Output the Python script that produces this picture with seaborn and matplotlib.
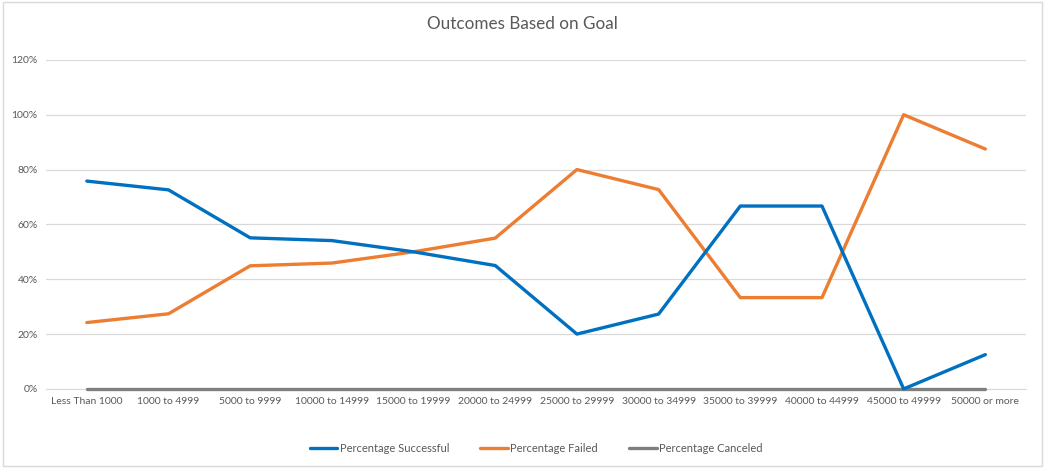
import pandas as pd
import matplotlib.pyplot as plt
import seaborn as sns
from matplotlib.ticker import PercentFormatter

# Categorias de meta
goal_ranges = ['Less Than 1000', '1000 to 4999', '5000 to 9999', '10000 to 14999',
               '15000 to 19999', '20000 to 24999', '25000 to 29999', '30000 to 34999',
               '35000 to 39999', '40000 to 44999', '45000 to 49999', '50000 or more']

# Valores
pct_successful = [0.758, 0.726, 0.551, 0.541, 0.50, 0.45, 0.20, 0.273, 0.667, 0.667, 0.0, 0.125]
pct_failed = [0.242, 0.274, 0.449, 0.459, 0.50, 0.55, 0.80, 0.727, 0.333, 0.333, 1.0, 0.875]
pct_canceled = [0.0] * 12

series_names = ['Percentage Successful', 'Percentage Failed', 'Percentage Canceled']
cores = ['#0070C0', '#ED7D31', '#7F7F7F']

df = pd.DataFrame({
    'goal': goal_ranges * 3,
    'pos': list(range(len(goal_ranges))) * 3,
    'valor': pct_successful + pct_failed + pct_canceled,
    'serie': [s for s in series_names for _ in goal_ranges],
})

sns.set_style('white')
plt.rcParams['font.family'] = ['Lato', 'DejaVu Sans']

fig = plt.figure(figsize=(10.45, 4.68), dpi=100)
ax = fig.add_axes([0.044, 0.169, 0.938, 0.703])

sns.lineplot(data=df, x='pos', y='valor', hue='serie', palette=cores,
             hue_order=series_names, linewidth=2.4, ax=ax, legend=True)
# linhas fora do clip para a linha cinza no 0% aparecer inteira
for i, linha in enumerate(ax.lines):
    linha.set_clip_on(False)
    linha.set_zorder(5 - i)

ax.set_xlim(-0.5, len(goal_ranges) - 0.5)
ax.set_ylim(0, 1.2)
ax.set_yticks([0, 0.2, 0.4, 0.6, 0.8, 1.0, 1.2])
ax.yaxis.set_major_formatter(PercentFormatter(1.0, decimals=0))
ax.set_xticks(range(len(goal_ranges)))
ax.set_xticklabels(goal_ranges)
ax.tick_params(axis='both', labelsize=7.5, colors='#595959', length=0, pad=6)
ax.grid(axis='y', color='#D9D9D9', linewidth=0.9)
ax.set_axisbelow(True)
for lado in ['top', 'right', 'left']:
    ax.spines[lado].set_visible(False)
ax.spines['bottom'].set_color('#D9D9D9')
ax.set_xlabel('')
ax.set_ylabel('')

fig.suptitle('Outcomes Based on Goal', y=0.965, fontsize=12.3, color='#595959')

handles, labels = ax.get_legend_handles_labels()
ax.legend(handles, labels, loc='upper center', bbox_to_anchor=(0.5, -0.135),
          ncol=3, frameon=False, fontsize=8, labelcolor='#595959',
          handlelength=2.5, columnspacing=2.8, handletextpad=0.2)

fig.patches.append(plt.Rectangle((0.003, 0.004), 0.994, 0.992, transform=fig.transFigure,
                                 fill=False, edgecolor='#D9D9D9', linewidth=1))

fig.savefig('out.png', dpi=100)
